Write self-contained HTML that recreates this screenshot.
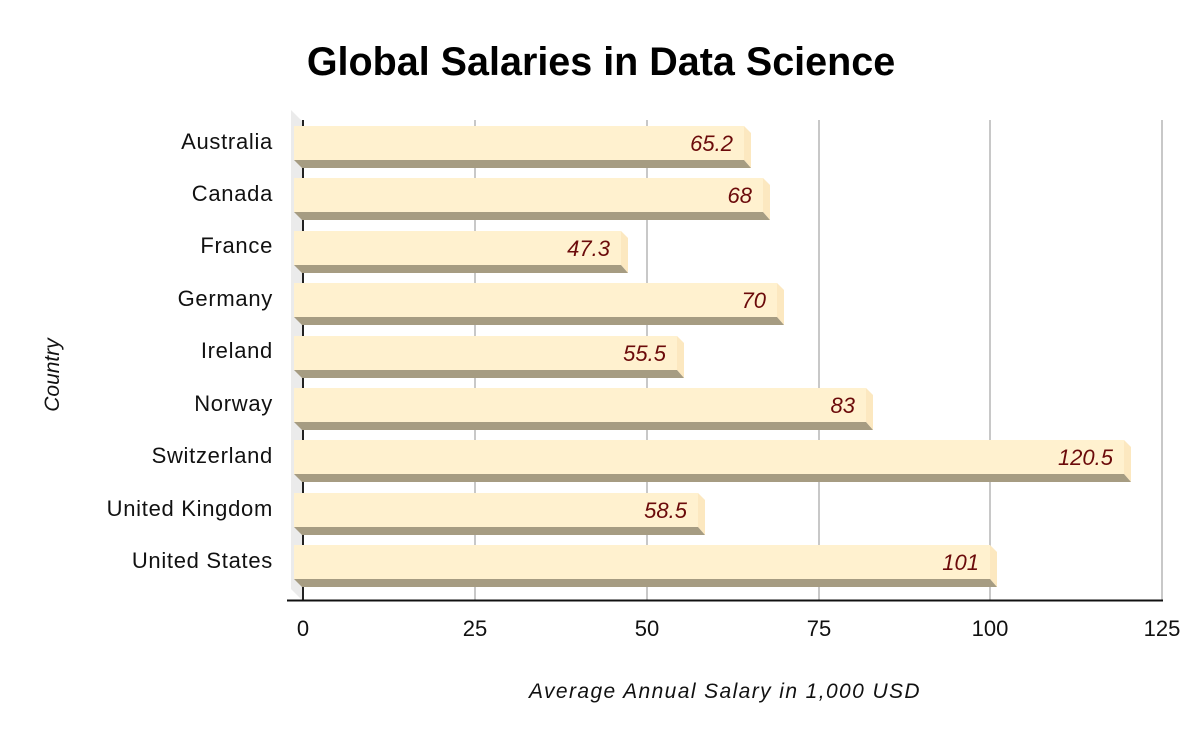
<!DOCTYPE html>
<html><head><meta charset="utf-8"><style>
body{margin:0;background:#fff}
svg{display:block;font-family:"Liberation Sans",sans-serif}
.cat{font-size:22px;fill:#111;text-anchor:end;letter-spacing:0.7px}
.val{font-size:22px;font-style:italic;fill:#6b0a0a;text-anchor:end}
.tick{font-size:22px;fill:#111;text-anchor:middle}
</style></head><body>
<svg width="1200" height="742" viewBox="0 0 1200 742">
<rect width="1200" height="742" fill="#fff"/>
<text x="601" y="75" text-anchor="middle" font-size="39.5" font-weight="bold" fill="#000">Global Salaries in Data Science</text>
<polygon points="291,110 302,121 302,600 291,589" fill="#ebebeb"/>
<g stroke="#c8c8c8" stroke-width="2">
<line x1="475" y1="120" x2="475" y2="600"/><line x1="647" y1="120" x2="647" y2="600"/>
<line x1="819" y1="120" x2="819" y2="600"/><line x1="990" y1="120" x2="990" y2="600"/>
<line x1="1162" y1="120" x2="1162" y2="600"/></g>
<line x1="303" y1="120" x2="303" y2="600" stroke="#222" stroke-width="2"/>
<line x1="287" y1="600.5" x2="1163" y2="600.5" stroke="#111" stroke-width="2"/>
<g>
<g><rect x="294" y="126" width="450" height="34" fill="#fff1cf"/><polygon points="744,126 751,133 751,168 744,160" fill="#fce8c0"/><polygon points="294,160 744,160 751,168 302,168" fill="#a69c82"/><text class="val" x="733" y="151">65.2</text></g>
<g><rect x="294" y="178" width="469" height="34" fill="#fff1cf"/><polygon points="763,178 770,185 770,220 763,212" fill="#fce8c0"/><polygon points="294,212 763,212 770,220 302,220" fill="#a69c82"/><text class="val" x="752" y="203">68</text></g>
<g><rect x="294" y="231" width="327" height="34" fill="#fff1cf"/><polygon points="621,231 628,238 628,273 621,265" fill="#fce8c0"/><polygon points="294,265 621,265 628,273 302,273" fill="#a69c82"/><text class="val" x="610" y="256">47.3</text></g>
<g><rect x="294" y="283" width="483" height="34" fill="#fff1cf"/><polygon points="777,283 784,290 784,325 777,317" fill="#fce8c0"/><polygon points="294,317 777,317 784,325 302,325" fill="#a69c82"/><text class="val" x="766" y="308">70</text></g>
<g><rect x="294" y="336" width="383" height="34" fill="#fff1cf"/><polygon points="677,336 684,343 684,378 677,370" fill="#fce8c0"/><polygon points="294,370 677,370 684,378 302,378" fill="#a69c82"/><text class="val" x="666" y="361">55.5</text></g>
<g><rect x="294" y="388" width="572" height="34" fill="#fff1cf"/><polygon points="866,388 873,395 873,430 866,422" fill="#fce8c0"/><polygon points="294,422 866,422 873,430 302,430" fill="#a69c82"/><text class="val" x="855" y="413">83</text></g>
<g><rect x="294" y="440" width="830" height="34" fill="#fff1cf"/><polygon points="1124,440 1131,447 1131,482 1124,474" fill="#fce8c0"/><polygon points="294,474 1124,474 1131,482 302,482" fill="#a69c82"/><text class="val" x="1113" y="465">120.5</text></g>
<g><rect x="294" y="493" width="404" height="34" fill="#fff1cf"/><polygon points="698,493 705,500 705,535 698,527" fill="#fce8c0"/><polygon points="294,527 698,527 705,535 302,535" fill="#a69c82"/><text class="val" x="687" y="518">58.5</text></g>
<g><rect x="294" y="545" width="696" height="34" fill="#fff1cf"/><polygon points="990,545 997,552 997,587 990,579" fill="#fce8c0"/><polygon points="294,579 990,579 997,587 302,587" fill="#a69c82"/><text class="val" x="979" y="570">101</text></g>
</g>
<text class="cat" x="273" y="149">Australia</text>
<text class="cat" x="273" y="201">Canada</text>
<text class="cat" x="273" y="253">France</text>
<text class="cat" x="273" y="306">Germany</text>
<text class="cat" x="273" y="358">Ireland</text>
<text class="cat" x="273" y="411">Norway</text>
<text class="cat" x="273" y="463">Switzerland</text>
<text class="cat" x="273" y="516">United Kingdom</text>
<text class="cat" x="273" y="568">United States</text>
<text class="tick" x="303" y="636">0</text>
<text class="tick" x="475" y="636">25</text>
<text class="tick" x="647" y="636">50</text>
<text class="tick" x="819" y="636">75</text>
<text class="tick" x="990" y="636">100</text>
<text class="tick" x="1162" y="636">125</text>
<text x="725" y="698" text-anchor="middle" font-size="21" letter-spacing="1.4" font-style="italic" fill="#111">Average Annual Salary in 1,000 USD</text>
<text transform="translate(59,375) rotate(-90)" text-anchor="middle" font-size="21" font-style="italic" fill="#111">Country</text>
</svg>
</body></html>
